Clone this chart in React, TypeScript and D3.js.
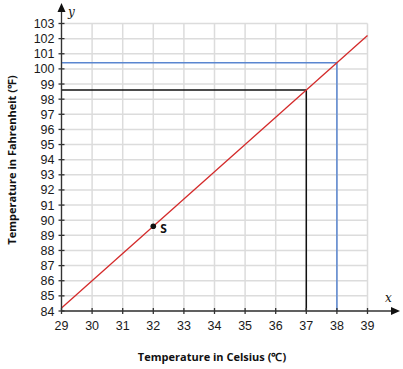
import React from 'react';
import { scaleLinear, range } from 'd3';

// Celsius ticks along x, Fahrenheit ticks along y
const celsiusTicks = range(29, 40);
const fahrenheitTicks = range(84, 104);

// the conversion line drawn from its two ends
const lineCelsius = [29, 39];
const lineFahrenheit = [84.2, 102.2];

// guide lines: [celsius, fahrenheit, colour]
const guides: [number, number, string][] = [
  [38, 100.4, '#5a86d0'],
  [37, 98.6, '#111111']
];

const pointS = { c: 32, f: 89.6, label: 'S' };

const xTitle = 'Temperature in Celsius (℃)';
const yTitle = 'Temperature in Fahrenheit (℉)';

export default function App() {
  const width = 403;
  const height = 369;
  const x = scaleLinear().domain([29, 39]).range([61.5, 367.5]);
  const y = scaleLinear().domain([84, 103]).range([311, 23.5]);
  const font = "'Open Sans', 'Liberation Sans', sans-serif";
  const tickFont = "'Liberation Sans', Arial, sans-serif";

  return (
    <svg
      width={width}
      height={height}
      style={{ position: 'absolute', left: 0, top: 0, background: '#fff' }}
    >
      {/* grid */}
      <g stroke="#dcdcdc" strokeWidth={1.5}>
        {celsiusTicks.map(c => (
          <line key={'gx' + c} x1={x(c)} x2={x(c)} y1={y(84)} y2={y(103)} />
        ))}
        {fahrenheitTicks.map(f => (
          <line key={'gy' + f} x1={x(29)} x2={x(39)} y1={y(f)} y2={y(f)} />
        ))}
      </g>

      {/* guides */}
      {guides.map(([c, f, col]) => (
        <g key={c} stroke={col} strokeWidth={1.5} fill="none">
          <line x1={x(29)} x2={x(c)} y1={y(f)} y2={y(f)} />
          <line x1={x(c)} x2={x(c)} y1={y(f)} y2={y(84)} />
        </g>
      ))}

      {/* conversion line */}
      <line
        x1={x(lineCelsius[0])}
        y1={y(lineFahrenheit[0])}
        x2={x(lineCelsius[1])}
        y2={y(lineFahrenheit[1])}
        stroke="#d42a2a"
        strokeWidth={1.3}
      />

      {/* axes */}
      <g stroke="#333" strokeWidth={1.3}>
        <line x1={x(29)} x2={394} y1={y(84)} y2={y(84)} />
        <line x1={x(29)} x2={x(29)} y1={y(84)} y2={8} />
        {celsiusTicks.map(c => (
          <line key={'tx' + c} x1={x(c)} x2={x(c)} y1={y(84) - 3} y2={y(84) + 3} />
        ))}
        {fahrenheitTicks.map(f => (
          <line key={'ty' + f} x1={x(29) - 3} x2={x(29) + 3} y1={y(f)} y2={y(f)} />
        ))}
      </g>
      <path d={`M400,${y(84)} L391,${y(84) - 4} L391,${y(84) + 4} Z`} fill="#111" />
      <path d={`M${x(29)},3 L${x(29) - 4},12 L${x(29) + 4},12 Z`} fill="#111" />

      {/* tick labels */}
      <g fontFamily={tickFont} fontSize={12.5} fill="#1a1a1a">
        {celsiusTicks.map(c => (
          <text key={'lx' + c} x={x(c)} y={y(84) + 19} textAnchor="middle">
            {c}
          </text>
        ))}
        {fahrenheitTicks.map(f => (
          <text key={'ly' + f} x={x(29) - 7} y={y(f) + 4.5} textAnchor="end">
            {f}
          </text>
        ))}
      </g>

      {/* point S */}
      <circle cx={x(pointS.c)} cy={y(pointS.f)} r={2.8} fill="#111" />
      <text
        x={x(pointS.c) + 7}
        y={y(pointS.f) + 7}
        fontFamily={font}
        fontSize={12}
        fontWeight="bold"
        fill="#111"
      >
        {pointS.label}
      </text>

      {/* axis letters */}
      <text x={68} y={16} fontFamily="'DejaVu Serif', serif" fontStyle="italic" fontSize={12} fill="#111">
        y
      </text>
      <text x={385} y={302} fontFamily="'DejaVu Serif', serif" fontStyle="italic" fontSize={12} fill="#111">
        x
      </text>

      {/* axis titles */}
      <text
        x={212}
        y={361}
        textAnchor="middle"
        fontFamily={font}
        fontSize={11}
        fontWeight="bold"
        fill="#111"
      >
        {xTitle}
      </text>
      <text
        transform={`translate(16,${160}) rotate(-90)`}
        textAnchor="middle"
        fontFamily={font}
        fontSize={11}
        fontWeight="bold"
        fill="#111"
      >
        {yTitle}
      </text>
    </svg>
  );
}
